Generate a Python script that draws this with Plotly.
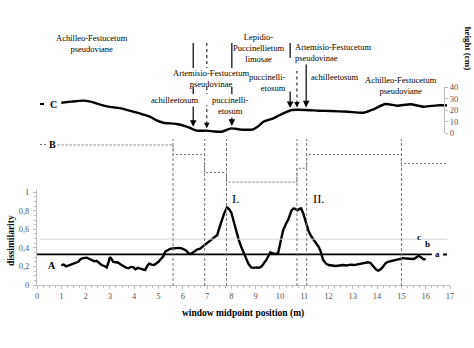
import numpy as np
import plotly.graph_objects as go

# ---- data ---------------------------------------------------------------
# A: moving-window dissimilarity along the transect
dis_x = [1.0, 1.1, 1.2, 1.3, 1.4, 1.55, 1.7, 1.8, 1.9, 2.05, 2.15, 2.25, 2.35, 2.45,
         2.55, 2.66, 2.77, 2.87, 2.95, 3.0, 3.07, 3.14, 3.25, 3.35, 3.45, 3.55, 3.65,
         3.76, 3.87, 3.97, 4.05, 4.15, 4.25, 4.35, 4.45, 4.55, 4.62, 4.72, 4.82, 4.92,
         5.0, 5.1, 5.2, 5.28, 5.38, 5.48, 5.6, 5.7, 5.85, 5.96, 6.05, 6.15, 6.24, 6.32,
         6.42, 6.5, 6.6, 6.7, 6.8, 6.9, 7.0, 7.1, 7.2, 7.3, 7.42, 7.5, 7.6, 7.7, 7.82,
         7.9, 8.0, 8.1, 8.2, 8.3, 8.41, 8.5, 8.6, 8.7, 8.82, 8.92, 9.03, 9.13, 9.24,
         9.34, 9.44, 9.52, 9.6, 9.72, 9.82, 9.92, 10.03, 10.13, 10.25, 10.35, 10.47,
         10.55, 10.63, 10.72, 10.8, 10.87, 10.95, 11.02, 11.1, 11.18, 11.3, 11.42,
         11.5, 11.6, 11.68, 11.78, 11.9, 12.0, 12.15, 12.3, 12.45, 12.6, 12.75, 12.9,
         13.05, 13.2, 13.35, 13.5, 13.62, 13.72, 13.84, 13.95, 14.04, 14.12, 14.22,
         14.35, 14.45, 14.6, 14.75, 14.9, 15.07, 15.2, 15.35, 15.5, 15.6, 15.7, 15.8,
         15.9, 16.0]
dis_y = [0.215, 0.22, 0.20, 0.21, 0.215, 0.23, 0.25, 0.28, 0.29, 0.295, 0.285, 0.27,
         0.255, 0.26, 0.24, 0.215, 0.205, 0.19, 0.25, 0.30, 0.28, 0.25, 0.245, 0.24,
         0.22, 0.20, 0.19, 0.18, 0.195, 0.19, 0.17, 0.185, 0.175, 0.17, 0.16, 0.21,
         0.23, 0.22, 0.215, 0.235, 0.25, 0.28, 0.31, 0.36, 0.375, 0.39, 0.395, 0.40,
         0.40, 0.395, 0.385, 0.37, 0.34, 0.335, 0.35, 0.365, 0.385, 0.39, 0.41, 0.43,
         0.45, 0.475, 0.50, 0.52, 0.54, 0.61, 0.70, 0.77, 0.835, 0.82, 0.78, 0.68,
         0.57, 0.49, 0.41, 0.35, 0.29, 0.23, 0.19, 0.185, 0.19, 0.185, 0.20, 0.23,
         0.27, 0.31, 0.35, 0.34, 0.335, 0.34, 0.47, 0.59, 0.66, 0.71, 0.80, 0.825,
         0.82, 0.805, 0.82, 0.825, 0.78, 0.72, 0.64, 0.58, 0.52, 0.47, 0.45, 0.41,
         0.36, 0.27, 0.23, 0.215, 0.21, 0.205, 0.21, 0.215, 0.21, 0.22, 0.215, 0.225,
         0.23, 0.24, 0.245, 0.24, 0.20, 0.17, 0.155, 0.165, 0.19, 0.235, 0.25, 0.26,
         0.27, 0.28, 0.29, 0.285, 0.285, 0.28, 0.295, 0.315, 0.30, 0.28, 0.275]

# significance levels drawn across the dissimilarity panel
level_a = 0.33
level_c = 0.495

# B: mean level of the delimited segments (relative scale)
seg_edges = [0.85, 5.6, 6.9, 7.8, 10.7, 11.1, 15.0, 16.9]
seg_levels = [0.85, 0.67, 0.33, 0.15, 0.41, 0.67, 0.50]

# boundaries between segments
boundaries = [5.6, 6.9, 7.8, 10.7, 11.1, 15.0]

# C: micro-relief (height, cm) along the transect
prof_x = [1.0, 1.4, 1.9, 2.2, 2.6, 3.0, 3.5, 3.96, 4.3, 4.65, 4.9, 5.2, 5.75, 6.16,
          6.57, 6.98, 7.3, 7.6, 8.0, 8.4, 8.9, 9.1, 9.32, 9.73, 10.14, 10.49, 11.11,
          11.6, 12.07, 12.8, 13.44, 13.86, 14.34, 14.82, 15.37, 15.92, 16.47, 16.88]
prof_h = [26.6, 27.5, 28.4, 27.5, 25.0, 23.0, 21.5, 18.8, 16.8, 14.5, 11.5, 9.2, 8.1,
          5.8, 2.3, 2.3, 1.6, 1.4, 4.3, 3.2, 3.5, 6.0, 10.0, 13.0, 17.4, 20.3, 20.3,
          19.6, 19.4, 18.7, 17.9, 20.9, 25.5, 24.0, 25.2, 23.1, 24.3, 24.3]

x_ticks = list(range(0, 18))
dis_ticks = [0, 0.2, 0.4, 0.6, 0.8, 1]
height_ticks = [0, 10, 20, 30, 40]

# ---- layout geometry ------------------------------------------------------
W, H = 474, 348
ML, MR, MT, MB = 37, 24, 0, 63
PH = H - MT - MB  # plot-area height in px


def pf(row):
    """pixel row (from top) -> paper fraction"""
    return (PH - row) / PH


DIS_DOM = [0, pf(190.4)]
SEG_DOM = [pf(190), pf(137)]
PROF_DOM = [pf(133.3), pf(87.3)]


def prof_paper(x):
    h = float(np.interp(x, prof_x, prof_h))
    return PROF_DOM[0] + h / 40 * (PROF_DOM[1] - PROF_DOM[0])


SERIF = "Liberation Serif"
INK = "#000000"
fig = go.Figure()

# A curve
fig.add_trace(go.Scatter(x=dis_x, y=dis_y, mode="lines",
                         line=dict(color=INK, width=2.4), yaxis="y",
                         hoverinfo="skip"))
# level lines
fig.add_trace(go.Scatter(x=[0, 16.25], y=[level_a, level_a], mode="lines",
                         line=dict(color=INK, width=1.8), yaxis="y"))
fig.add_trace(go.Scatter(x=[0.1, 16.9], y=[level_c, level_c], mode="lines",
                         line=dict(color="#d6d6d6", width=1), yaxis="y"))

# B step line
fig.add_trace(go.Scatter(x=seg_edges, y=seg_levels + [seg_levels[-1]], mode="lines",
                         line=dict(color="#777777", width=1, dash="2px,2px", shape="hv"),
                         yaxis="y2"))

# C profile
fig.add_trace(go.Scatter(x=prof_x, y=prof_h, mode="lines",
                         line=dict(color=INK, width=2.4, shape="spline", smoothing=0.6),
                         yaxis="y3"))

shapes = []
# segment boundaries
for bx in boundaries:
    shapes.append(dict(type="line", xref="x", yref="paper", x0=bx, x1=bx,
                       y0=pf(286), y1=pf(139),
                       line=dict(color="#777777", width=1, dash="3px,2px")))

# vegetation-unit markers above the profile
def vline(x, r0, r1, dash="solid"):
    shapes.append(dict(type="line", xref="x", yref="paper", x0=x, x1=x,
                       y0=pf(r0), y1=pf(r1),
                       line=dict(color=INK, width=1.2 if dash == "solid" else 1,
                                 dash=dash)))

left_group = [(6.43, "solid"), (6.99, "dot"), (8.02, "solid")]
for x, d in left_group:
    vline(x, 43, 68, d)
    vline(x, 87, 94, d)
vline(10.42, 43, 58)

# legend-like dashes before the labels
shapes.append(dict(type="line", xref="paper", yref="paper",
                   x0=(40 - ML) / 413, x1=(44 - ML) / 413, y0=pf(104), y1=pf(104),
                   line=dict(color=INK, width=2)))
shapes.append(dict(type="line", xref="paper", yref="paper",
                   x0=(40 - ML) / 413, x1=(47 - ML) / 413, y0=pf(144.5), y1=pf(144.5),
                   line=dict(color="#777777", width=1, dash="2px,2px")))
shapes.append(dict(type="line", xref="paper", yref="paper",
                   x0=(443 - ML) / 413, x1=(447 - ML) / 413, y0=pf(254.5), y1=pf(254.5),
                   line=dict(color=INK, width=2)))

annotations = []


def arrow(x, start_row, dash="solid"):
    tip = prof_paper(x) + 2.5 / PH
    tip_row = PH - tip * PH
    if dash == "solid":
        annotations.append(dict(x=x, y=tip, xref="x", yref="paper", text="",
                                showarrow=True, arrowhead=2, arrowsize=1.1,
                                arrowwidth=1.2, arrowcolor=INK,
                                ax=0, ay=-(tip_row - start_row)))
    else:
        shapes.append(dict(type="line", xref="x", yref="paper", x0=x, x1=x,
                           y0=tip + 4 / PH, y1=pf(start_row),
                           line=dict(color=INK, width=1, dash="dot")))
        annotations.append(dict(x=x, y=tip, xref="x", yref="paper", text="",
                                showarrow=True, arrowhead=2, arrowsize=1.1,
                                arrowwidth=1, arrowcolor=INK, ax=0, ay=-5))


arrow(6.43, 105)
arrow(6.99, 105, "dot")
arrow(8.02, 116)
arrow(10.42, 90)
arrow(10.70, 71, "dot")
arrow(11.08, 63)


def label(x, row, text, size=8.5, xanchor="center", align="center", xref="x",
          bold=False, angle=0):
    annotations.append(dict(x=x, y=pf(row), xref=xref, yref="paper",
                            text=f"<b>{text}</b>" if bold else text, showarrow=False,
                            xanchor=xanchor, yanchor="middle", align=align,
                            textangle=angle,
                            font=dict(family=SERIF, size=size, color=INK)))


def xd(px):
    return (px - ML) / 24.29


label(xd(92), 43, "Achilleo-Festucetum<br>pseudoviane")
label(xd(401), 85, "Achilleo-Festucetum<br>pseudoviane")
label(xd(258), 48, "Lepidio-<br>Puccinellietum<br>limosae")
label(xd(211), 78.5, "Artemisio-Festucetum<br>pseudovinae")
label(xd(175), 100, "achilleetosum")
label(xd(230), 105.5, "puccinelli-<br>etosum")
label(xd(288), 82.5, "puccinelli-<br>etosum", xanchor="right", align="right")
label(xd(293), 52, "Artemisio-Festucetum<br>pseudovinae", xanchor="left", align="left")
label(xd(309), 77.5, "achilleetosum", xanchor="left", align="left")

label(xd(235), 199, "I.", size=12.5)
label(xd(318), 199, "II.", size=12.5)
label(xd(53), 104, "C", size=10, bold=True)
label(xd(52), 144.5, "B", size=10, bold=True)
label(xd(52), 265, "A", size=10, bold=True)
label(xd(437), 253.5, "a", size=9, bold=True)
label(xd(427), 244, "b", size=9, bold=True)
label(xd(419), 236.5, "c", size=9, bold=True)

# axis titles
label((243 - ML) / 413, 313, "window midpoint position (m)", size=9.5, bold=True,
      xref="paper")
label((11 - ML) / 413, 240, "dissimilarity", size=9.5, bold=True, xref="paper",
      angle=-90)
label((467.5 - ML) / 413, 48, "height (cm)", size=9, bold=True, xref="paper",
      angle=90)

axis_gray = "#bdbdbd"
tick_font = dict(family=SERIF, size=8.5, color="#555555")

fig.update_layout(
    template="none",
    width=W, height=H,
    margin=dict(l=ML, r=MR, t=MT, b=MB, pad=0),
    paper_bgcolor="white", plot_bgcolor="white",
    font=dict(family=SERIF, color=INK),
    showlegend=False,
    separators=", ",
    shapes=shapes,
    annotations=annotations,
    xaxis=dict(range=[0, 17], tickvals=x_ticks, showgrid=False, zeroline=False,
               showline=True, linecolor=axis_gray, linewidth=1,
               ticks="outside", ticklen=3, tickcolor=axis_gray,
               minor=dict(dtick=0.25, ticks="outside", ticklen=2, tickcolor=axis_gray),
               tickfont=tick_font, anchor="y"),
    yaxis=dict(domain=DIS_DOM, range=[0, 1.02], tickvals=dis_ticks,
               showgrid=False, zeroline=False, showline=True, linecolor=axis_gray,
               ticks="outside", ticklen=3, tickcolor=axis_gray,
               minor=dict(dtick=0.05, ticks="outside", ticklen=2, tickcolor=axis_gray),
               tickfont=tick_font, ticklabelstandoff=2),
    yaxis2=dict(domain=SEG_DOM, range=[0, 1], visible=False, anchor="x"),
    yaxis3=dict(domain=PROF_DOM, range=[0, 40], tickvals=height_ticks,
                side="right", anchor="free", position=(444 - ML) / 413,
                showgrid=False, zeroline=False, showline=True, linecolor=axis_gray,
                ticks="outside", ticklen=3, tickcolor=axis_gray,
                tickfont=tick_font),
)

fig.write_html("out.html")
